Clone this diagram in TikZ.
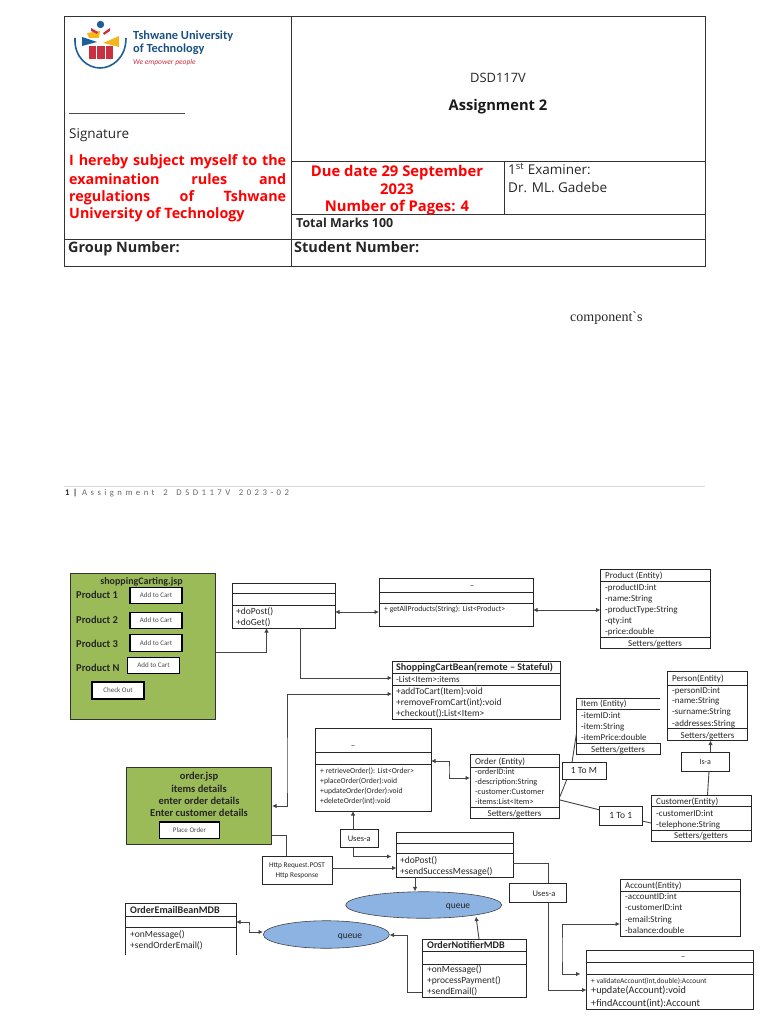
\documentclass[tikz,border=0pt]{standalone}
\usepackage{fontspec}
\setmainfont{Carlito}
\newfontfamily\headfont{Open Sans}
\newfontfamily\footfont[LetterSpace=40,WordSpace=1.6]{Carlito}
\newfontfamily\timesfont{Liberation Serif}
\usetikzlibrary{arrows.meta,shapes.geometric}
\definecolor{jspgreen}{HTML}{9BBB59}
\definecolor{queueblue}{HTML}{8DB3E2}
\definecolor{linegray}{HTML}{444444}
\definecolor{logoblue}{HTML}{1F5F99}
\definecolor{logored}{HTML}{C8313F}
\definecolor{logoyellow}{HTML}{F2B71F}
\newcommand{\sz}[1]{\fontsize{#1}{#1}\selectfont}
\newcommand{\classbox}[5]{
	\node[umlbox, minimum width={(#4-#2)*1pt}, minimum height={(#5-#3)*1pt}] (#1) at ({(#2+#4)/2}, {(#3+#5)/2}) {};
}
\tikzset{
	umlbox/.style={draw=black!85, fill=white, line width=0.9pt, inner sep=0pt, outer sep=0pt},
	sepline/.style={draw=black!85, line width=0.9pt},
	tabline/.style={draw=black!80, line width=0.9pt},
	txt/.style={inner sep=0pt, anchor=west, text=black!85, text height=1.5ex, text depth=.4ex, yshift=-1pt},
	rowtxt/.style={txt, font=\sz{9}},
	midtxt/.style={inner sep=0pt, text=black!85, font=\sz{9}, text height=1.5ex, text depth=.4ex, yshift=-1pt},
	titletxt/.style={txt, font=\sz{10.1}\bfseries},
	redtxt/.style={inner sep=0pt, text=red, font=\headfont\sz{14.3}\bfseries, yshift=-1.5pt},
	duetxt/.style={redtxt, font=\headfont\sz{14.8}\bfseries},
	headtxt/.style={txt, font=\headfont\sz{14.4}\bfseries},
	jspbox/.style={draw=black!80, fill=jspgreen, line width=1pt, inner sep=0pt},
	btn/.style={draw=black, fill=white, line width=1.3pt, inner sep=0pt, text=black!70, font=\sz{7}},
	notebox/.style={draw=black!85, fill=white, line width=0.9pt, inner sep=0pt, text=black!85},
	queuenode/.style={ellipse, draw=linegray, fill=queueblue, line width=0.6pt, inner sep=0pt},
	conn/.style={draw=linegray, line width=0.9pt, -{Latex[length=4.5pt,width=4.5pt]}},
	conntwo/.style={draw=linegray, line width=0.9pt, {Latex[length=4.5pt,width=4.5pt]}-{Latex[length=4.5pt,width=4.5pt]}},
	plain/.style={draw=linegray, line width=0.9pt}
}
\begin{document}
\begin{tikzpicture}[x=1pt, y=-1pt]
	\useasboundingbox (0, 0) rectangle (768, 1024);
	\draw[tabline] (64, 16) rectangle (705, 266);
	\draw[tabline] (291.5, 16) -- (291.5, 266);
	\draw[tabline] (291.5, 161) -- (705, 161);
	\draw[tabline] (291.5, 214.5) -- (705, 214.5);
	\draw[tabline] (64, 239) -- (705, 239);
	\draw[tabline] (504, 161) -- (504, 214.5);

	\fill[logoblue] (100.5, 24.5) circle (3.7);
	\draw[logoblue, line width=1.6pt] (75, 38) .. controls (74, 58) and (88, 68) .. (100, 68) .. controls (112, 68) and (126, 58) .. (126, 38);
	\fill[logoyellow] (87, 33) -- (100, 31) -- (99, 38) -- (89, 38) -- cycle;
	\fill[logoyellow] (119, 36) -- (119, 47) -- (103, 43) -- cycle;
	\fill[logoblue] (82, 37) -- (97, 42) -- (82, 46) -- cycle;
	\fill[logored] (91, 28) -- (98, 32) -- (97, 34) -- (91, 31) -- cycle;
	\fill[logored] (103, 33) -- (110, 28) -- (110, 31) -- (104, 35) -- cycle;
	\foreach \x in {88.5, 97, 105.5}{
		\fill[logored] (\x, 46) rectangle (\x + 7.5, 59);
	}
	\node[txt, text=logoblue!85!black, font=\sz{12.4}\bfseries] (logoa) at (133, 36) {Tshwane University};
	\node[txt, text=logoblue!85!black, font=\sz{12.4}\bfseries] (logob) at (133, 48.5) {of Technology};
	\node[txt, text=logored, font=\sz{7.5}\itshape] (logoc) at (133, 61) {We empower people};

	\draw[black!70, line width=0.6pt] (69, 113.5) -- (185, 113.5);
	\node[txt, font=\headfont\sz{13.5}] (signature) at (69, 135) {Signature};
	\node[redtxt, anchor=west] (rulea) at (69, 160) {\makebox[217pt][s]{I hereby subject myself to the}};
	\node[redtxt, anchor=west] (ruleb) at (69, 178) {\makebox[217pt][s]{examination rules and}};
	\node[redtxt, anchor=west] (rulec) at (69, 196) {\makebox[217pt][s]{regulations of Tshwane}};
	\node[redtxt, anchor=west] (ruled) at (69, 213) {University of Technology};
	\node[inner sep=0pt, font=\headfont\sz{12.9}, text=black!85] (code) at (498, 78) {DSD117V};
	\node[inner sep=0pt, font=\headfont\sz{14.7}\bfseries, text=black!90] (assign) at (498, 107) {Assignment 2};
	\node[duetxt] (duea) at (397, 171) {Due date 29 September};
	\node[duetxt] (dueb) at (397, 188) {2023};
	\node[duetxt] (duec) at (397, 206) {Number of Pages: 4};
	\node[txt, font=\headfont\sz{13.5}] (exama) at (508, 171) {1\textsuperscript{st} Examiner:};
	\node[txt, font=\headfont\sz{13.5}] (examb) at (508, 189) {Dr. ML. Gadebe};
	\node[txt, font=\headfont\sz{12.4}\bfseries] (marks) at (296, 224) {Total Marks 100};
	\node[headtxt] (group) at (68, 249) {Group Number:};
	\node[headtxt, font=\headfont\sz{14.5}\bfseries] (student) at (294, 249) {Student Number:};
	\node[txt, font=\timesfont\sz{14}] (comp) at (570, 318) {component`s};

	\draw[black!15, line width=0.6pt] (64, 486) -- (705, 486);
	\node[txt, font=\footfont\sz{8.7}] (foot) at (65, 492) {\textbf{1|}\,\textcolor{black!60}{Assignment 2 DSD117V 2023-02}};

	\node[jspbox, minimum width=145pt, minimum height=145.5pt] (cart) at (142.5, 646.25) {};
	\node[inner sep=0pt, font=\sz{10}\bfseries, text=black!85] (cartname) at (141.5, 582) {shoppingCarting.jsp};
	\foreach \i/\y/\t in {1/594.5/Product 1, 2/620/Product 2, 3/644/Product 3, 4/668/Product N}{
		\node[txt, font=\sz{10.5}\bfseries] (prodlabel\i) at (76, \y) {\t};
	}
	\foreach \i/\x/\y in {1/156/595.5, 2/156/620.5, 3/156/643, 4/153.5/665.5}{
		\node[btn, minimum width=52pt, minimum height=16.5pt] (add\i) at (\x, \y) {Add to Cart};
	}
	\node[btn, minimum width=52pt, minimum height=17pt] (checkout) at (118, 690.5) {Check Out};

	\classbox{doform}{232}{583}{335}{628}
	\draw[sepline] (232, 593.5) -- (335, 593.5);
	\draw[sepline] (232, 605) -- (335, 605);
	\node[rowtxt, font=\sz{9.5}] (doforma) at (236, 611) {+doPost()};
	\node[rowtxt, font=\sz{9.5}] (doformb) at (236, 622) {+doGet()};

	\classbox{catalog}{379}{578.5}{533}{626}
	\draw[sepline] (379, 592) -- (533, 592);
	\draw[sepline] (379, 603) -- (533, 603);
	\node[midtxt] (catalogname) at (472, 585) {--};
	\node[rowtxt, font=\sz{7.7}] (cataloga) at (384, 608) {+ getAllProducts(String): List<Product>};

	\classbox{product}{600.5}{569.5}{710}{648}
	\draw[sepline] (600.5, 581) -- (710, 581);
	\draw[sepline] (600.5, 637) -- (710, 637);
	\node[rowtxt] (productname) at (605, 575) {Product (Entity)};
	\foreach \i/\y/\t in {1/587/-productID:int, 2/597.5/-name:String, 3/609/-productType:String, 4/620/-qty:int, 5/631/-price:double}{
		\node[rowtxt] (product\i) at (605, \y) {\t};
	}
	\node[midtxt] (productset) at (655, 643) {Setters/getters};

	\classbox{bean}{392}{661}{560.5}{719}
	\draw[sepline] (392, 673.5) -- (560.5, 673.5);
	\draw[sepline] (392, 685) -- (560.5, 685);
	\node[titletxt] (beanname) at (396, 667) {ShoppingCartBean(remote -- Stateful)};
	\node[rowtxt] (beana) at (396, 679) {-List<Item>:items};
	\foreach \i/\y/\t in {1/691/+addToCart(Item):void, 2/702/+removeFromCart(int):void, 3/713/+checkout():List<Item>}{
		\node[rowtxt, font=\sz{9.5}] (beanb\i) at (396, \y) {\t};
	}

	\node[jspbox, minimum width=145pt, minimum height=77pt] (order) at (199, 805.5) {};
	\foreach \i/\y/\t in {1/777/order.jsp, 2/789/items details, 3/801/enter order details, 4/813/Enter customer details}{
		\node[inner sep=0pt, font=\sz{10.5}\bfseries, text=black!85] (orderline\i) at (199, \y) {\t};
	}
	\node[btn, minimum width=60pt, minimum height=16.5pt] (placeorder) at (189.5, 830.25) {Place Order};

	\classbox{session}{315.5}{728.5}{431}{811}
	\draw[sepline] (315.5, 752) -- (431, 752);
	\draw[sepline] (315.5, 764) -- (431, 764);
	\node[midtxt] (sessionname) at (353, 745) {--};
	\foreach \i/\y/\t in {1/770/+ retrieveOrder(): List<Order>, 2/780/+placeOrder(Order):void, 3/790/+updateOrder(Order):void, 4/800/+deleteOrder(int):void}{
		\node[rowtxt, font=\sz{7.7}] (session\i) at (320, \y) {\t};
	}

	\classbox{orderent}{470}{754.5}{559.5}{818}
	\draw[sepline] (470, 767) -- (559.5, 767);
	\draw[sepline] (470, 807) -- (559.5, 807);
	\node[rowtxt] (orderentname) at (475, 760.5) {Order (Entity)};
	\foreach \i/\y/\t in {1/771/-orderID:int, 2/781/-description:String, 3/791/-customer:Customer, 4/801/-items:List<Item>}{
		\node[rowtxt, font=\sz{8.3}] (orderent\i) at (475, \y) {\t};
	}
	\node[midtxt] (orderentset) at (514.5, 812.5) {Setters/getters};

	\node[inner sep=0pt, minimum width=83.5pt, minimum height=56pt, outer sep=0pt] (item) at (618.25, 726) {};
	\draw[sepline] (660, 743) -- (660, 754) -- (576.5, 754) -- (576.5, 698) -- (660, 698);
	\draw[sepline] (576.5, 709) -- (660, 709);
	\draw[sepline] (576.5, 743) -- (660, 743);
	\node[rowtxt] (itemname) at (581, 703) {Item (Entity)};
	\foreach \i/\y/\t in {1/715/-itemID:int, 2/726/-item:String, 3/737/-itemPrice:double}{
		\node[rowtxt] (item\i) at (581, \y) {\t};
	}
	\node[midtxt] (itemset) at (618, 748.5) {Setters/getters};

	\classbox{person}{667.5}{671.5}{747.5}{740.5}
	\draw[sepline] (667.5, 685) -- (747.5, 685);
	\draw[sepline] (667.5, 728.5) -- (747.5, 728.5);
	\node[rowtxt] (personname) at (672, 678) {Person(Entity)};
	\foreach \i/\y/\t in {1/690/-personID:int, 2/700/-name:String, 3/711/-surname:String, 4/723/-addresses:String}{
		\node[rowtxt] (person\i) at (672, \y) {\t};
	}
	\node[midtxt] (personset) at (707.5, 734.5) {Setters/getters};

	\classbox{customer}{651}{795}{751.5}{841}
	\draw[sepline] (651, 806) -- (751.5, 806);
	\draw[sepline] (651, 830) -- (751.5, 830);
	\node[rowtxt] (customername) at (656, 800.5) {Customer(Entity)};
	\node[rowtxt] (customera) at (656, 812.5) {-customerID:int};
	\node[rowtxt] (customerb) at (656, 823.5) {-telephone:String};
	\node[midtxt] (customerset) at (701, 835) {Setters/getters};

	\classbox{account}{620}{879}{740.5}{936}
	\draw[sepline] (620, 891.5) -- (740.5, 891.5);
	\node[rowtxt] (accountname) at (625, 885) {Account(Entity)};
	\foreach \i/\y/\t in {1/896/-accountID:int, 2/907/-customerID:int, 3/918.5/-email:String, 4/929.5/-balance:double}{
		\node[rowtxt] (account\i) at (625, \y) {\t};
	}

	\classbox{manager}{586.5}{950}{753}{1009.5}
	\draw[sepline] (586.5, 962) -- (753, 962);
	\draw[sepline] (586.5, 974.5) -- (753, 974.5);
	\node[midtxt] (managername) at (683, 956) {--};
	\node[rowtxt, font=\sz{7.4}] (managera) at (591, 979.5) {+ validateAccount(int,double):Account};
	\node[rowtxt, font=\sz{10.2}] (managerb) at (591, 990) {+update(Account):void};
	\node[rowtxt, font=\sz{10.2}] (managerc) at (591, 1003) {+findAccount(int):Account};

	\classbox{servlet}{396.5}{832}{513}{877}
	\draw[sepline] (396.5, 843) -- (513, 843);
	\draw[sepline] (396.5, 853.5) -- (513, 853.5);
	\node[rowtxt, font=\sz{9.5}] (serveta) at (400, 860) {+doPost()};
	\node[rowtxt, font=\sz{9.5}] (servetb) at (400, 871) {+sendSuccessMessage()};

	\node[queuenode, minimum width=156pt, minimum height=26.5pt] (queuea) at (423.7, 905) {};
	\node[midtxt, font=\sz{9.5}] (queuealabel) at (458, 905) {queue};
	\node[queuenode, minimum width=126pt, minimum height=27.5pt] (queueb) at (326.3, 934.5) {};
	\node[midtxt, font=\sz{9.5}] (queueblabel) at (350, 934.5) {queue};

	\node[inner sep=0pt, outer sep=0pt, minimum width=110.5pt, minimum height=52pt] (mailbean) at (180.75, 929) {};
	\draw[sepline] (125.5, 955) -- (125.5, 903) -- (236, 903) -- (236, 955);
	\draw[sepline] (125.5, 916.5) -- (236, 916.5);
	\draw[sepline] (125.5, 927.5) -- (236, 927.5);
	\node[titletxt] (mailbeanname) at (130, 910) {OrderEmailBeanMDB};
	\node[rowtxt, font=\sz{9.5}] (mailbeana) at (130, 933.5) {+onMessage()};
	\node[rowtxt, font=\sz{9.5}] (mailbeanb) at (130, 944.5) {+sendOrderEmail()};

	\classbox{notifier}{422}{939}{526}{997}
	\draw[sepline] (422, 951.5) -- (526, 951.5);
	\draw[sepline] (422, 964) -- (526, 964);
	\node[titletxt] (notifiername) at (427, 945) {OrderNotifierMDB};
	\foreach \i/\y/\t in {1/969/+onMessage(), 2/980/+processPayment(), 3/991/+sendEmail()}{
		\node[rowtxt, font=\sz{9.5}] (notifier\i) at (427, \y) {\t};
	}

	\draw[plain] (560,796.5) -- (567,779);
	\draw[plain] (572,762.5) -- (576.5,733);
	\draw[plain] (560,800) -- (600,810);
	\draw[plain] (642,821) -- (customer.west |- 0,823);
	\node[notebox, minimum width=44pt, minimum height=16.5pt, font=\sz{9.5}] (tomany) at (584, 770.75) {1 To M};
	\node[notebox, minimum width=42.5pt, minimum height=18.5pt, font=\sz{9.5}] (toone) at (620.75, 815.75) {1 To 1};
	\node[notebox, minimum width=47.5pt, minimum height=19pt, font=\sz{8}] (isa) at (705.25, 761.5) {Is-a};
	\node[notebox, minimum width=38.5pt, minimum height=18.5pt, font=\sz{8.5}] (usesa) at (359.25, 838.5) {Uses-a};
	\node[notebox, minimum width=70pt, minimum height=28.5pt] (http) at (297, 870.25) {};
	\node[midtxt, font=\sz{7.3}] (httpa) at (297, 863.5) {Http Request.POST};
	\node[midtxt, font=\sz{7.3}] (httpb) at (297, 873.5) {Http Response};
	\node[notebox, minimum width=57pt, minimum height=19.5pt] (usesb) at (538, 892.75) {};
	\node[midtxt, font=\sz{8.5}] (usesblabel) at (544, 892.75) {Uses-a};

	\draw[conn] (cart.east |- 0,652.5) -| (266.5,0 |- doform.south);
	\draw[conn] (300,0 |- doform.south) |- (bean.west |- 0,678);
	\draw[conntwo] (doform.east |- 0,612) -- (catalog.west |- 0,612);
	\draw[conntwo] (catalog.east |- 0,610) -- (product.west |- 0,610);
	\draw[conntwo] (bean.west |- 0,694) -| (287,780) |- (order.east |- 0,806);
	\draw[conntwo] (session.east |- 0,761) -| (449,770) |- (orderent.west |- 0,778);
	\draw[plain] (707.5,0 |- customer.north) -- (709,0 |- isa.south);
	\draw[conn] (710.5,0 |- isa.north) -- (710.5,0 |- person.south);
	\draw[conn] (353,0 |- usesa.north) -- (353,0 |- session.south);
	\draw[conn, shorten >=5pt] (353,0 |- usesa.south) |- (servlet.west |- 0,856.5);
	\draw[plain] (order.east |- 0,835.5) -| (286,0 |- http.north);
	\draw[conn] (http.east |- 0,868) -- (servlet.west |- 0,868);
	\draw[conn] (415,0 |- servlet.south) -- (415,0 |- queuea.north);
	\draw[plain] (servlet.east |- 0,863) -| (548,0 |- usesb.north);
	\draw[conn] (548,0 |- usesb.south) |- (manager.west |- 0,990);
	\draw[conntwo, shorten <=6pt] (manager.west |- 0,974) -| (562,950) |- (account.west |- 0,924);
	\draw[conntwo] (mailbean.east |- 0,922) -| (249,927) |- (queueb.west |- 0,932);
	\draw[conn] (479,0 |- notifier.north) -- (476,916.5);
	\draw[conn] (notifier.west |- 0,992) -| (407.5,960) |- (389.5,935);
\end{tikzpicture}
\end{document}
